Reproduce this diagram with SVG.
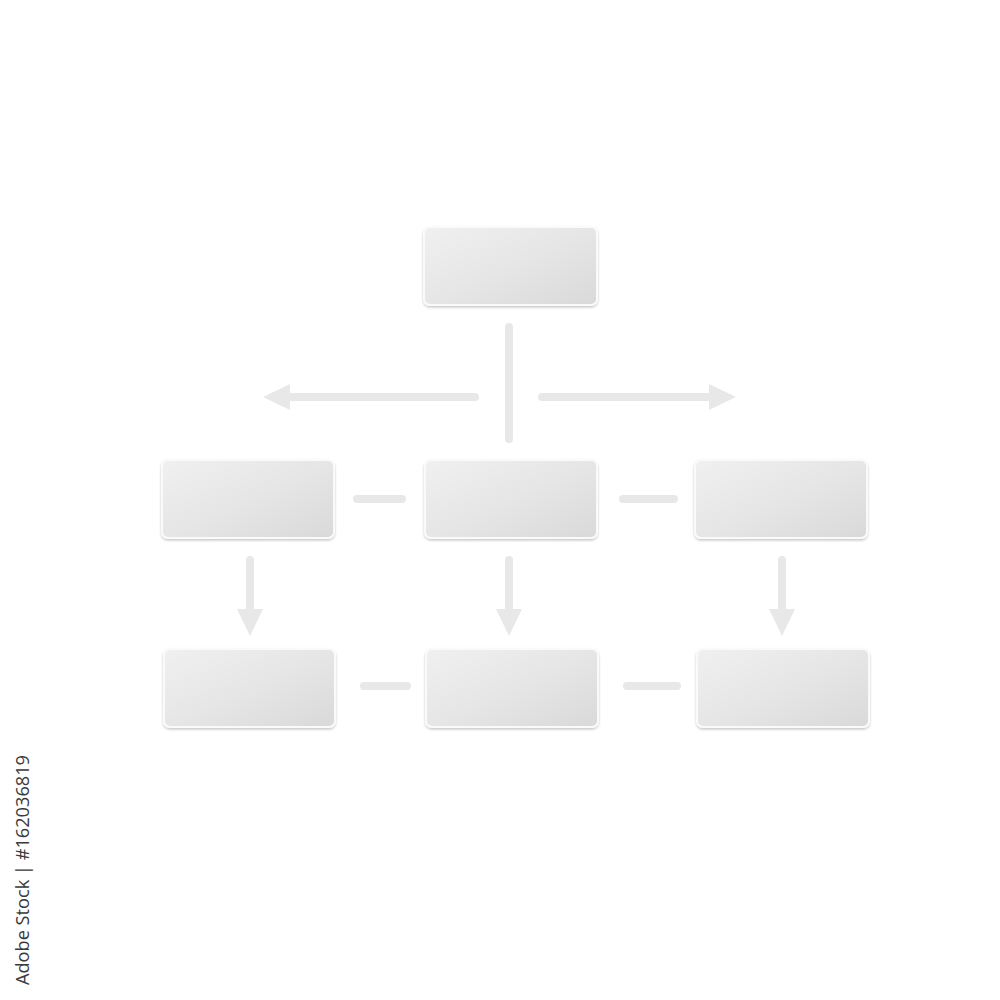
<svg xmlns="http://www.w3.org/2000/svg" width="1000" height="1000" viewBox="0 0 1000 1000">
<defs>
<linearGradient id="boxg" x1="0" y1="0" x2="1" y2="1">
<stop offset="0" stop-color="#f0f0f0"/>
<stop offset="0.5" stop-color="#e6e6e6"/>
<stop offset="1" stop-color="#d9d9d9"/>
</linearGradient>
<filter id="sh" x="-10%" y="-10%" width="120%" height="130%">
<feDropShadow dx="0" dy="1.5" stdDeviation="1.2" flood-color="#000" flood-opacity="0.22"/>
</filter>
</defs>
<style>
.box{fill:url(#boxg);stroke:#fafafa;stroke-width:2;filter:url(#sh)}
.ln{stroke:#e8e8e8;stroke-linecap:round;fill:none}
.ah{fill:#e8e8e8}
.wm{font-family:"Open Sans","Noto Sans",sans-serif;font-size:19px;fill:#3a3a3a}
</style>
<rect width="1000" height="1000" fill="#ffffff"/>
<g id="connectors">
<line class="ln" x1="509" y1="327" x2="509" y2="439" stroke-width="8"/>
<line class="ln" x1="475" y1="397" x2="285" y2="397" stroke-width="8"/>
<polygon class="ah" points="263,397 290,384 290,410"/>
<line class="ln" x1="542" y1="397" x2="715" y2="397" stroke-width="8"/>
<polygon class="ah" points="736,397 709,384 709,410"/>
<line class="ln" x1="357" y1="499" x2="402" y2="499" stroke-width="8"/>
<line class="ln" x1="623" y1="499" x2="674" y2="499" stroke-width="8"/>
<line class="ln" x1="250" y1="560" x2="250" y2="612" stroke-width="8"/>
<polygon class="ah" points="250,636 237,609 263,609"/>
<line class="ln" x1="509" y1="560" x2="509" y2="612" stroke-width="8"/>
<polygon class="ah" points="509,636 496,609 522,609"/>
<line class="ln" x1="782" y1="560" x2="782" y2="612" stroke-width="8"/>
<polygon class="ah" points="782,636 769,609 795,609"/>
<line class="ln" x1="364" y1="686" x2="407" y2="686" stroke-width="8"/>
<line class="ln" x1="627" y1="686" x2="677" y2="686" stroke-width="8"/>
</g>
<g id="n-top"><rect class="box" x="424" y="227" width="173" height="78" rx="6"/></g>
<g id="n-mid-left"><rect class="box" x="162" y="460" width="172" height="78" rx="6"/></g>
<g id="n-mid-center"><rect class="box" x="425" y="460" width="172" height="78" rx="6"/></g>
<g id="n-mid-right"><rect class="box" x="695" y="460" width="172" height="78" rx="6"/></g>
<g id="n-bot-left"><rect class="box" x="164" y="649" width="171" height="78" rx="6"/></g>
<g id="n-bot-center"><rect class="box" x="426" y="649" width="172" height="78" rx="6"/></g>
<g id="n-bot-right"><rect class="box" x="697" y="649" width="172" height="78" rx="6"/></g>
<text class="wm" transform="translate(29,985) rotate(-90)" textLength="230" lengthAdjust="spacingAndGlyphs">Adobe Stock | #162036819</text>
</svg>
